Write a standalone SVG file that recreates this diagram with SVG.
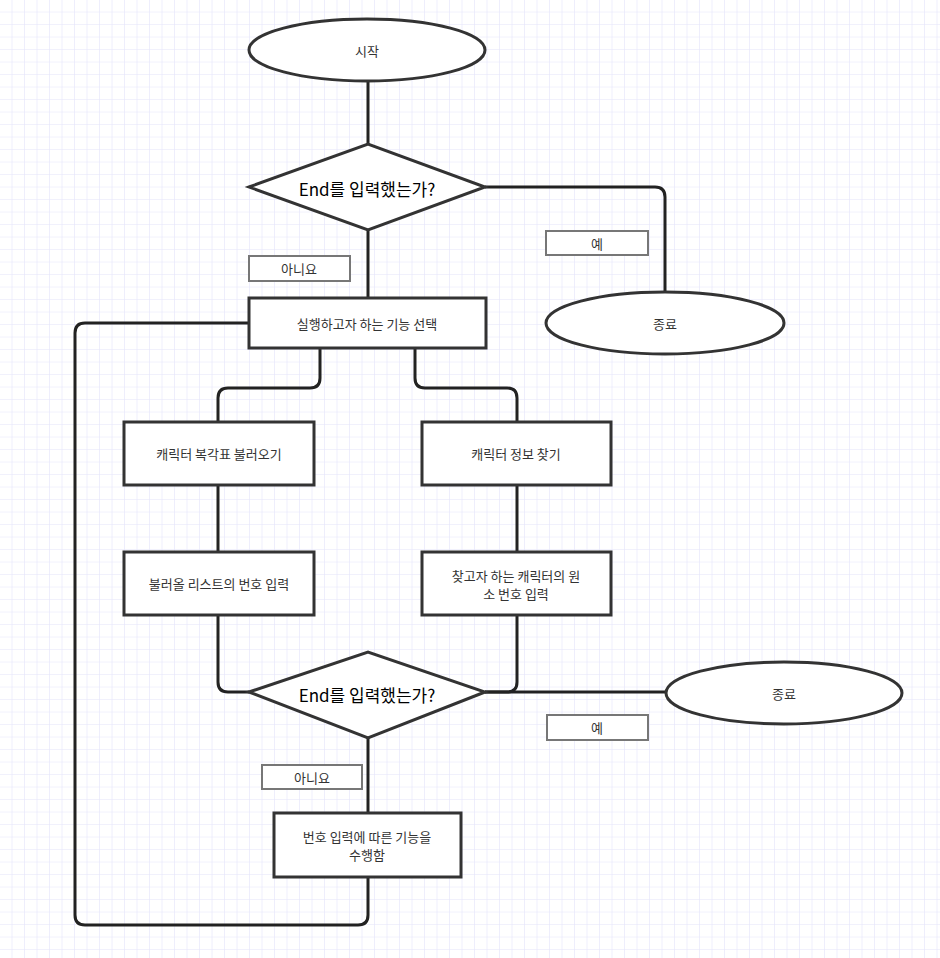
<svg xmlns="http://www.w3.org/2000/svg" width="940" height="958" viewBox="0 0 940 958">
<style>
.s{fill:#fff;stroke:#333;stroke-width:3}
.l{fill:#fff;stroke:#777;stroke-width:2}
.c{fill:none;stroke:#222;stroke-width:3}
text{font-family:"Noto Sans CJK KR","Noto Sans",sans-serif;font-size:13px;fill:#333;text-anchor:middle;dominant-baseline:central}
.b{font-size:17px;fill:#000}
</style>
<defs>
<pattern id="g" width="12.5" height="12.5" patternUnits="userSpaceOnUse">
<path d="M12.5 0V12.5H0" fill="none" stroke="#e4e4fa" stroke-width="1.2"/>
</pattern>
</defs>
<rect width="940" height="958" fill="#fff"/>
<rect width="940" height="958" fill="url(#g)"/>
<g id="connectors">
<path class="c" d="M368 81V144M368 230V298"/>
<path class="c" d="M485 187H655Q665 187 665 197V293"/>
<path class="c" d="M249 323H85Q75 323 75 333V915Q75 925 85 925H358Q368 925 368 915V877"/>
<path class="c" d="M320 348V378Q320 388 310 388H228Q218 388 218 398V422"/>
<path class="c" d="M415 348V378Q415 388 425 388H507Q517 388 517 398V422"/>
<path class="c" d="M218 485V552M517 485V552"/>
<path class="c" d="M218 615V682Q218 692 228 692H249"/>
<path class="c" d="M517 615V682Q517 692 507 692H485"/>
<path class="c" d="M485 692H666"/>
<path class="c" d="M368 738V813"/>
</g>
<g id="start"><ellipse class="s" cx="367" cy="50" rx="118" ry="31"/><text x="367" y="50">시작</text></g>
<g id="d1"><polygon class="s" points="249,187 368,144 485,187 368,230"/><text class="b" x="367" y="188">End를 입력했는가?</text></g>
<g id="l-no1"><rect class="l" x="249" y="256" width="101" height="25"/><text x="299" y="268">아니요</text></g>
<g id="select"><rect class="s" x="249" y="298" width="237" height="50"/><text x="367" y="323">실행하고자 하는 기능 선택</text></g>
<g id="l-yes1"><rect class="l" x="546" y="231" width="102" height="24"/><text x="597" y="243">예</text></g>
<g id="end1"><ellipse class="s" cx="665" cy="323" rx="119" ry="31"/><text x="665" y="323">종료</text></g>
<g id="b1"><rect class="s" x="124" y="422" width="190" height="63"/><text x="219" y="453">캐릭터 복각표 불러오기</text></g>
<g id="b2"><rect class="s" x="422" y="422" width="189" height="63"/><text x="516" y="453">캐릭터 정보 찾기</text></g>
<g id="b3"><rect class="s" x="124" y="552" width="190" height="63"/><text x="219" y="583">불러올 리스트의 번호 입력</text></g>
<g id="b4"><rect class="s" x="422" y="552" width="189" height="63"/><text x="516" y="575">찾고자 하는 캐릭터의 원</text><text x="516" y="593">소 번호 입력</text></g>
<g id="d2"><polygon class="s" points="249,692 368,652 485,692 368,738"/><text class="b" x="367" y="694">End를 입력했는가?</text></g>
<g id="end2"><ellipse class="s" cx="784" cy="693" rx="118" ry="31"/><text x="784" y="693">종료</text></g>
<g id="l-yes2"><rect class="l" x="547" y="715" width="101" height="25"/><text x="597" y="727">예</text></g>
<g id="l-no2"><rect class="l" x="262" y="765" width="100" height="24"/><text x="312" y="777">아니요</text></g>
<g id="b5"><rect class="s" x="274" y="813" width="187" height="64"/><text x="367" y="836">번호 입력에 따른 기능을</text><text x="367" y="854">수행함</text></g>
</svg>
